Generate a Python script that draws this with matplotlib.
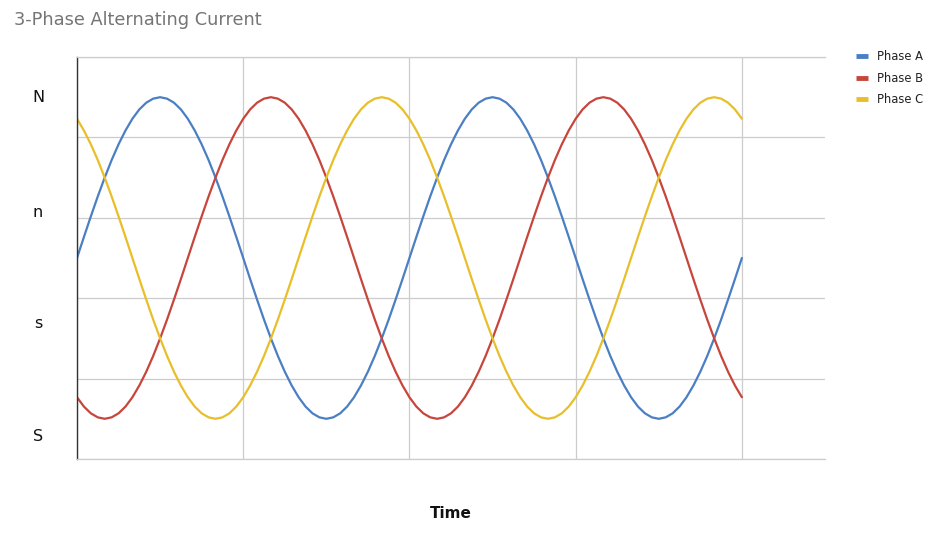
import matplotlib.pyplot as plt
import numpy as np

# values, one sample every 1/24 of a vertical grid step
phase_a = [0, 0.131, 0.259, 0.383, 0.5, 0.609, 0.707, 0.793, 0.866, 0.924, 0.966, 0.991,
           1, 0.991, 0.966, 0.924, 0.866, 0.793, 0.707, 0.609, 0.5, 0.383, 0.259, 0.131,
           0, -0.131, -0.259, -0.383, -0.5, -0.609, -0.707, -0.793, -0.866, -0.924, -0.966, -0.991,
           -1, -0.991, -0.966, -0.924, -0.866, -0.793, -0.707, -0.609, -0.5, -0.383, -0.259, -0.131,
           0, 0.131, 0.259, 0.383, 0.5, 0.609, 0.707, 0.793, 0.866, 0.924, 0.966, 0.991,
           1, 0.991, 0.966, 0.924, 0.866, 0.793, 0.707, 0.609, 0.5, 0.383, 0.259, 0.131,
           0, -0.131, -0.259, -0.383, -0.5, -0.609, -0.707, -0.793, -0.866, -0.924, -0.966, -0.991,
           -1, -0.991, -0.966, -0.924, -0.866, -0.793, -0.707, -0.609, -0.5, -0.383, -0.259, -0.131,
           0]
phase_b = [-0.866, -0.924, -0.966, -0.991, -1, -0.991, -0.966, -0.924, -0.866, -0.793, -0.707, -0.609,
           -0.5, -0.383, -0.259, -0.131, 0, 0.131, 0.259, 0.383, 0.5, 0.609, 0.707, 0.793,
           0.866, 0.924, 0.966, 0.991, 1, 0.991, 0.966, 0.924, 0.866, 0.793, 0.707, 0.609,
           0.5, 0.383, 0.259, 0.131, 0, -0.131, -0.259, -0.383, -0.5, -0.609, -0.707, -0.793,
           -0.866, -0.924, -0.966, -0.991, -1, -0.991, -0.966, -0.924, -0.866, -0.793, -0.707, -0.609,
           -0.5, -0.383, -0.259, -0.131, 0, 0.131, 0.259, 0.383, 0.5, 0.609, 0.707, 0.793,
           0.866, 0.924, 0.966, 0.991, 1, 0.991, 0.966, 0.924, 0.866, 0.793, 0.707, 0.609,
           0.5, 0.383, 0.259, 0.131, 0, -0.131, -0.259, -0.383, -0.5, -0.609, -0.707, -0.793,
           -0.866]
phase_c = [0.866, 0.793, 0.707, 0.609, 0.5, 0.383, 0.259, 0.131, 0, -0.131, -0.259, -0.383,
           -0.5, -0.609, -0.707, -0.793, -0.866, -0.924, -0.966, -0.991, -1, -0.991, -0.966, -0.924,
           -0.866, -0.793, -0.707, -0.609, -0.5, -0.383, -0.259, -0.131, 0, 0.131, 0.259, 0.383,
           0.5, 0.609, 0.707, 0.793, 0.866, 0.924, 0.966, 0.991, 1, 0.991, 0.966, 0.924,
           0.866, 0.793, 0.707, 0.609, 0.5, 0.383, 0.259, 0.131, 0, -0.131, -0.259, -0.383,
           -0.5, -0.609, -0.707, -0.793, -0.866, -0.924, -0.966, -0.991, -1, -0.991, -0.966, -0.924,
           -0.866, -0.793, -0.707, -0.609, -0.5, -0.383, -0.259, -0.131, 0, 0.131, 0.259, 0.383,
           0.5, 0.609, 0.707, 0.793, 0.866, 0.924, 0.966, 0.991, 1, 0.991, 0.966, 0.924,
           0.866]
series_names = ['Phase A', 'Phase B', 'Phase C']
y_labels = ['N', 'n', 's', 'S']
y_label_pos = [1.0, 0.28, -0.41, -1.11]

colors = ['#4a7fc4', '#c8453b', '#e8bf2a']
steps = np.arange(len(phase_a))

fig = plt.figure(figsize=(9.4, 5.35), dpi=100)
ax = fig.add_axes([77/940, 1 - 459/535, (825 - 77)/940, (459 - 57)/535])

for vals, name, c in zip([phase_a, phase_b, phase_c], series_names, colors):
    ax.plot(steps, vals, color=c, lw=1.6, label=name,
            solid_capstyle='round', solid_joinstyle='round')

ax.set_xlim(0, 108)
ax.set_ylim(-1.25, 1.25)
ax.set_xticks([0, 24, 48, 72, 96])
ax.set_yticks([-1.25, -0.75, -0.25, 0.25, 0.75, 1.25])
ax.set_xticklabels([])
ax.set_yticklabels([])
ax.tick_params(length=0)
ax.grid(True, color='#cccccc', lw=0.9)
ax.set_axisbelow(True)

for s in ['top', 'bottom']:
    ax.spines[s].set_color('#cccccc')
    ax.spines[s].set_linewidth(0.9)
ax.spines['right'].set_visible(False)
ax.spines['left'].set_color('#333333')
ax.spines['left'].set_linewidth(1.0)

label_tr = ax.get_yaxis_transform().__class__(fig.transFigure, ax.transData)
for lab, yp in zip(y_labels, y_label_pos):
    ax.text(38/940, yp, lab, transform=label_tr,
            ha='center', va='center', fontsize=11.5, color='#111111')

fig.text(14/940, 1 - 20/535, '3-Phase Alternating Current', fontsize=12.8,
         color='#757575', ha='left', va='center')
fig.text(451/940, 1 - 513/535, 'Time', fontsize=11, fontweight='bold',
         ha='center', va='center', color='#111111')

leg = fig.legend(loc='upper left', bbox_to_anchor=(856/940, 1 - 50/535),
                 frameon=False, fontsize=8.3, handlelength=1.0, handletextpad=0.8,
                 labelspacing=0.75, borderaxespad=0, borderpad=0)
for h in leg.get_lines():
    h.set_linewidth(3.5)
    h.set_solid_capstyle('butt')
for t in leg.get_texts():
    t.set_color('#222222')

fig.savefig('out.png', dpi=100)
